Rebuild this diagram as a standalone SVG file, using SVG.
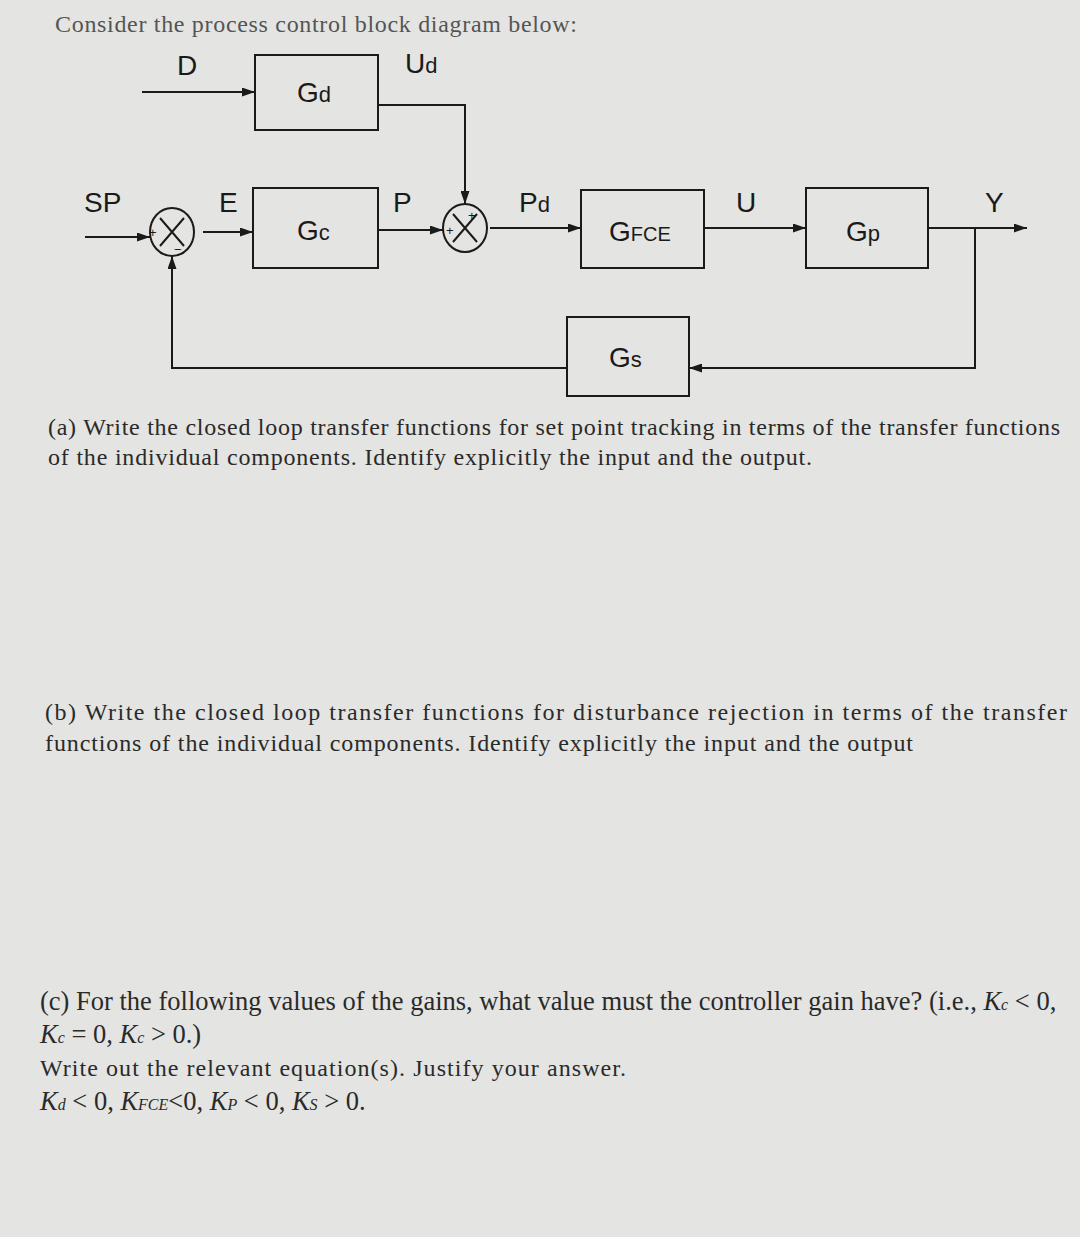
<svg xmlns="http://www.w3.org/2000/svg" width="1080" height="1237" viewBox="0 0 1080 1237">
<defs>
<marker id="ah" markerWidth="13" markerHeight="9" refX="13" refY="4.5" orient="auto" markerUnits="userSpaceOnUse"><path d="M0,0 L13,4.5 L0,9 Z" fill="#1a1a1a"/></marker>
<style>
.b{fill:none;stroke:#1a1a1a;stroke-width:2}
.l{fill:none;stroke:#1a1a1a;stroke-width:2}
.s{font-family:"Liberation Sans",Arial,sans-serif;fill:#1a1a1a;font-size:28px}
.t{font-family:"Liberation Serif","Times New Roman",serif;fill:#2a2a2a;font-size:24px}
.c{font-size:26.5px}
.sm{font-family:"Liberation Sans",Arial,sans-serif;fill:#1a1a1a;font-size:13px}
</style>
</defs>
<rect width="1080" height="1237" fill="#e4e4e2"/>
<text class="t" x="55" y="32" textLength="522" style="fill:#555">Consider the process control block diagram below:</text>
<g id="labels">
<text class="s" x="177" y="75">D</text>
<text class="s" x="405" y="73">U<tspan font-size="22">d</tspan></text>
<text class="s" x="84" y="212">SP</text>
<text class="s" x="219" y="212">E</text>
<text class="s" x="393" y="212">P</text>
<text class="s" x="519" y="212">P<tspan font-size="22">d</tspan></text>
<text class="s" x="736" y="212">U</text>
<text class="s" x="985" y="212">Y</text>
</g>
<g id="Gd"><rect class="b" x="255" y="55" width="123" height="75"/><text class="s" x="297" y="102">G<tspan font-size="22">d</tspan></text></g>
<g id="Gc"><rect class="b" x="253" y="188" width="125" height="80"/><text class="s" x="297" y="240">G<tspan font-size="22">c</tspan></text></g>
<g id="GFCE"><rect class="b" x="581" y="190" width="123" height="78"/><text class="s" x="609" y="241">G<tspan font-size="20">FCE</tspan></text></g>
<g id="Gp"><rect class="b" x="806" y="188" width="122" height="80"/><text class="s" x="846" y="241">G<tspan font-size="22">p</tspan></text></g>
<g id="Gs"><rect class="b" x="567" y="317" width="122" height="79"/><text class="s" x="609" y="367">G<tspan font-size="22">s</tspan></text></g>
<g id="sum1"><ellipse class="b" cx="172" cy="232" rx="22" ry="24"/><path class="l" d="M160,218 L184,246 M184,218 L160,246"/><text class="sm" x="149" y="237">+</text><text class="sm" x="174" y="254">−</text></g>
<g id="sum2"><ellipse class="b" cx="465" cy="228" rx="22" ry="24"/><path class="l" d="M453,214 L477,242 M477,214 L453,242"/><text class="sm" x="446" y="235">+</text><text class="sm" x="468" y="220">+</text></g>
<g id="connectors">
<path class="l" d="M142,92 L255,92" marker-end="url(#ah)"/>
<path class="l" d="M378,105 L465,105 L465,204" marker-end="url(#ah)"/>
<path class="l" d="M85,237 L150,237" marker-end="url(#ah)"/>
<path class="l" d="M203,232 L253,232" marker-end="url(#ah)"/>
<path class="l" d="M378,230 L443,230" marker-end="url(#ah)"/>
<path class="l" d="M490,228 L581,228" marker-end="url(#ah)"/>
<path class="l" d="M704,228 L806,228" marker-end="url(#ah)"/>
<path class="l" d="M928,228 L1027,228" marker-end="url(#ah)"/>
<path class="l" d="M975,228 L975,368 L689,368" marker-end="url(#ah)"/>
<path class="l" d="M567,368 L172,368 L172,256" marker-end="url(#ah)"/>
</g>
<g id="text">
<text class="t" x="48" y="435" textLength="1012">(a) Write the closed loop transfer functions for set point tracking in terms of the transfer functions</text>
<text class="t" x="48" y="465" textLength="764">of the individual components. Identify explicitly the input and the output.</text>
<text class="t" x="45" y="720" textLength="1022" lengthAdjust="spacing">(b) Write the closed loop transfer functions for disturbance rejection in terms of the transfer</text>
<text class="t" x="45" y="751" textLength="868">functions of the individual components. Identify explicitly the input and the output</text>
<text class="t c" x="40" y="1010">(c) For the following values of the gains, what value must the controller gain have? (i.e., <tspan font-style="italic">K<tspan font-size="16">c</tspan></tspan> &lt; 0,</text>
<text class="t c" x="40" y="1043"><tspan font-style="italic">K<tspan font-size="16">c</tspan></tspan> = 0, <tspan font-style="italic">K<tspan font-size="16">c</tspan></tspan> &gt; 0.)</text>
<text class="t" x="40" y="1076" textLength="586">Write out the relevant equation(s). Justify your answer.</text>
<text class="t c" x="40" y="1110"><tspan font-style="italic">K<tspan font-size="16">d</tspan></tspan> &lt; 0, <tspan font-style="italic">K<tspan font-size="16">FCE</tspan></tspan>&lt;0, <tspan font-style="italic">K<tspan font-size="16">P</tspan></tspan> &lt; 0, <tspan font-style="italic">K<tspan font-size="16">S</tspan></tspan> &gt; 0.</text>
</g>
</svg>
